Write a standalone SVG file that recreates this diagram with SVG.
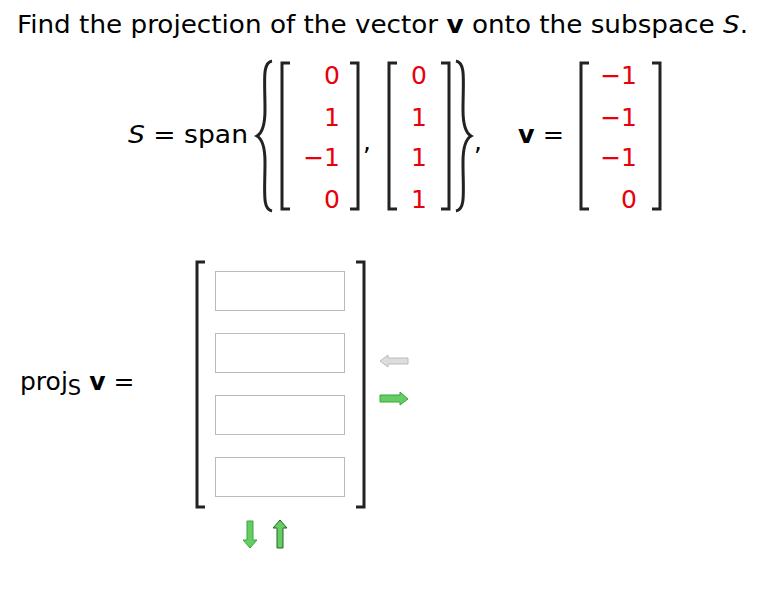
<svg xmlns="http://www.w3.org/2000/svg" width="780" height="610" viewBox="0 0 780 610">
<style>
text{font-family:"DejaVu Sans",Verdana,sans-serif;font-size:25px;fill:#000}
.r{fill:#e8000b;text-anchor:end}
.c{fill:#e8000b;text-anchor:middle}
.br{fill:none;stroke:#222;stroke-width:3}
.bx{fill:#fff;stroke:#bbb;stroke-width:1}
</style>
<rect width="780" height="610" fill="#fff"/>
<text x="17" y="33" font-size="25" textLength="731" lengthAdjust="spacingAndGlyphs">Find the projection of the vector <tspan font-weight="bold">v</tspan> onto the subspace <tspan font-style="italic">S</tspan>.</text>
<g id="eq">
<text x="128" y="143" textLength="120" lengthAdjust="spacingAndGlyphs"><tspan font-style="italic">S</tspan> = span</text>
<path class="br" d="M272,61 C262,63 265,80 265,110 C265,125 262,133 257,136 C262,139 265,147 265,162 C265,192 262,209 272,211"/>
<path class="br" d="M456,61 C466,63 463,80 463,110 C463,125 466,133 471,136 C466,139 463,147 463,162 C463,192 466,209 456,211"/>
<path class="br" d="M290,63 h-8 v146 h8 M350,63 h8 v146 h-8"/>
<text class="r" x="340" y="84">0</text><text class="r" x="340" y="126">1</text><text class="r" x="340" y="166">−1</text><text class="r" x="340" y="208">0</text>
<text x="363" y="150">,</text>
<path class="br" d="M397,63 h-8 v146 h8 M441,63 h8 v146 h-8"/>
<text class="c" x="419" y="84">0</text><text class="c" x="419" y="126">1</text><text class="c" x="419" y="166">1</text><text class="c" x="419" y="208">1</text>
<text x="474" y="150">,</text>
<text x="518" y="143" textLength="46" lengthAdjust="spacingAndGlyphs"><tspan font-weight="bold">v</tspan> =</text>
<path class="br" d="M589,63 h-8 v146 h8 M652,63 h8 v146 h-8"/>
<text class="r" x="637" y="84">−1</text><text class="r" x="637" y="126">−1</text><text class="r" x="637" y="166">−1</text><text class="r" x="637" y="208">0</text>
</g>
<g id="answer">
<text x="20" y="390">proj<tspan font-size="21" dy="5">S</tspan><tspan dy="-5"> </tspan><tspan font-weight="bold">v</tspan> =</text>
<path class="br" d="M205,262 h-8 v245 h8 M356,262 h8 v245 h-8"/>
<rect class="bx" x="215.5" y="271.5" width="129" height="39"/>
<rect class="bx" x="215.5" y="333.5" width="129" height="39"/>
<rect class="bx" x="215.5" y="395.5" width="129" height="39"/>
<rect class="bx" x="215.5" y="457.5" width="129" height="39"/>
</g>
<g id="buttons">
<path d="M380,361 l8,-6 v3 h20 v6 h-20 v3 z" fill="#ddd" stroke="#bbb"/>
<path d="M408,399 l-8,-7 v3 h-20 v7 h20 v3 z" fill="#6c6" stroke="#3a3"/>
<path d="M250,548 l-7,-8 h4 v-19 h6 v19 h4 z" fill="#6c6" stroke="#3a3"/>
<path d="M280,520 l-7,8 h4 v20 h6 v-20 h4 z" fill="#6c6" stroke="#262"/>
</g>
</svg>
